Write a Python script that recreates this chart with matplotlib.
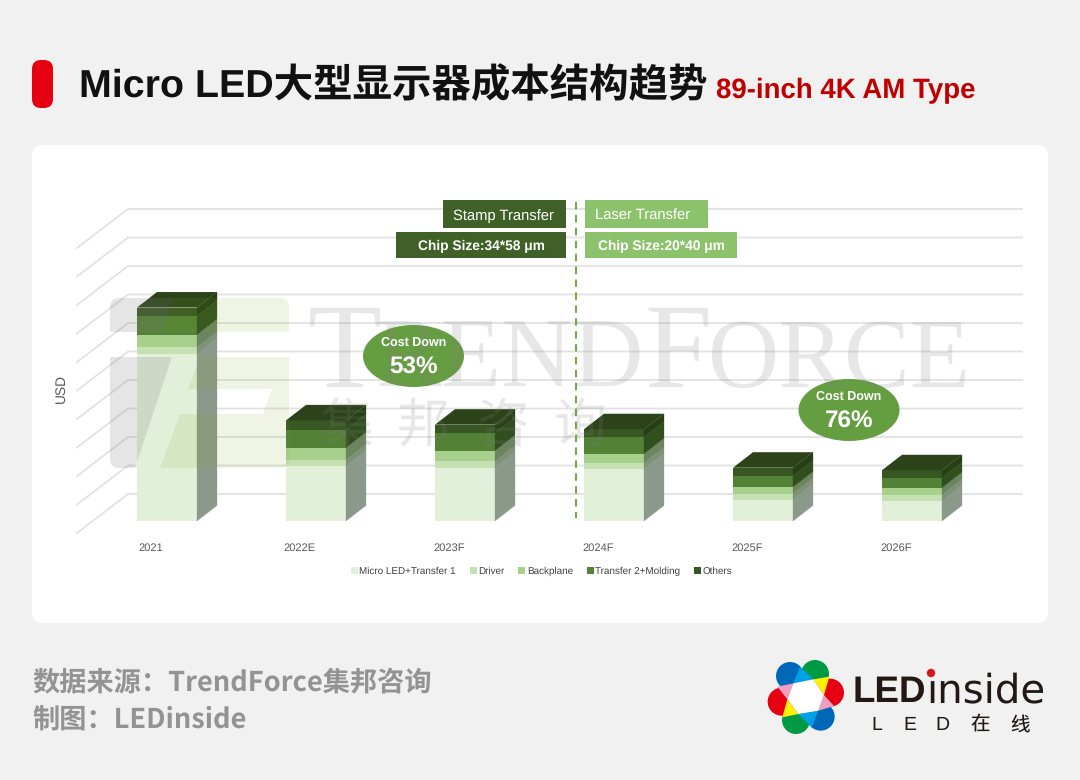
import matplotlib
matplotlib.use("Agg")
import matplotlib.pyplot as plt
from matplotlib.patches import FancyBboxPatch, Ellipse, Polygon, Circle, PathPatch, Rectangle
from matplotlib.path import Path
import numpy as np

plt.rcParams["text.hinting"] = "no_hinting"

# ---------- data (in gridline units) ----------
categories = ["2021", "2022E", "2023F", "2024F", "2025F", "2026F"]
series_names = ["Micro LED+Transfer 1", "Driver", "Backplane", "Transfer 2+Molding", "Others"]
micro_led = [5.87, 1.92, 1.87, 1.82, 0.75, 0.70]
driver = [0.23, 0.23, 0.23, 0.22, 0.21, 0.22]
backplane = [0.44, 0.42, 0.37, 0.32, 0.23, 0.25]
transfer2 = [0.65, 0.64, 0.63, 0.58, 0.39, 0.34]
others = [0.30, 0.32, 0.28, 0.28, 0.29, 0.27]
series = [micro_led, driver, backplane, transfer2, others]
grid_values = list(range(11))

front_colors = ["#E2EFD9", "#C5E0B3", "#A8D08D", "#538135", "#385723"]
side_colors = ["#8B998A", "#7F9277", "#6C8560", "#304F1D", "#263F15"]
top_color = "#2C4319"

W, H = 1080, 780
fig = plt.figure(figsize=(W / 100, H / 100), dpi=100, facecolor="#F1F1F1")


def px_axes(x0, y0, x1, y1, z):
    return fig.add_axes([x0 / W, 1 - y1 / H, (x1 - x0) / W, (y1 - y0) / H], zorder=z)


# background layer in pixel coordinates
bg = px_axes(0, 0, W, H, 0)
bg.set_xlim(0, W); bg.set_ylim(H, 0); bg.axis("off")
bg.add_patch(FancyBboxPatch((42, 155), 996, 458, boxstyle="round,pad=10,rounding_size=10",
                            fc="white", ec="none"))
bg.add_patch(FancyBboxPatch((38, 66), 9, 36, boxstyle="round,pad=6,rounding_size=9",
                            fc="#E60012", ec="none"))

# ---------- chart ----------
UX, UY = 149.0, 28.5          # pixels per category / per grid unit
X_AT = 151.0                  # pixel of category 0 label
AX_L, AX_R, AX_B, AX_T = 77, 1022, 533, 533 - 13 * 28.5
ax = px_axes(AX_L, AX_T, AX_R, AX_B, 1)
ax.set_xlim((AX_L - X_AT) / UX, (AX_R - X_AT) / UX)
ax.set_ylim(0, 13)
ax.patch.set_alpha(0)
for s in ax.spines.values():
    s.set_visible(False)

wall_dx, wall_dy = 51 / UX, 39 / UY
xl, xr = ax.get_xlim()
for v in grid_values:
    ax.plot([xl, xl + wall_dx, xr], [v, v + wall_dy, v + wall_dy], color="#E2E2E2", lw=1.3,
            zorder=1, solid_joinstyle="miter", clip_on=False)

bar_w = 60 / UX
bar_dx, base_y = 16 / UX, 12 / UY
dep_x, dep_y = 20 / UX, 15.5 / UY
xs = np.arange(len(categories)) + bar_dx
bottom = np.full(len(categories), base_y)
handles = []
for vals, fc, sc, name in zip(series, front_colors, side_colors, series_names):
    vals = np.array(vals)
    b = ax.bar(xs, vals, bar_w, bottom=bottom, color=fc, lw=0, zorder=3, label=name)
    handles.append(b)
    for x, b0, h in zip(xs, bottom, vals):
        xr0 = x + bar_w / 2
        ax.fill([xr0, xr0 + dep_x, xr0 + dep_x, xr0],
                [b0, b0 + dep_y, b0 + h + dep_y, b0 + h], facecolor=sc, edgecolor=sc, lw=0.2, zorder=3)
    bottom = bottom + vals
for x, t in zip(xs, bottom):
    xl0 = x - bar_w / 2
    ax.fill([xl0, xl0 + dep_x, xl0 + bar_w + dep_x, xl0 + bar_w],
            [t, t + dep_y, t + dep_y, t], color=top_color, lw=0, zorder=3)

ax.set_xticks(range(len(categories)), categories)
ax.set_yticks([])
ax.tick_params(axis="x", length=0, pad=7, labelsize=8, labelcolor="#595959")
for lab in ax.get_xticklabels():
    lab.set_family("Liberation Sans")

leg = ax.legend(handles=handles, loc="center", ncol=5, frameon=False,
                bbox_to_anchor=((541.5 - AX_L) / (AX_R - AX_L), (AX_B - 571.5) / (AX_B - AX_T)),
                prop={"family": "Liberation Sans", "size": 7.15}, handlelength=0.7, handleheight=0.7,
                handletextpad=0.15, columnspacing=1.4, labelcolor="#404040", borderpad=0)

# ---------- overlay ----------
ov = px_axes(0, 0, W, H, 2)
ov.set_xlim(0, W); ov.set_ylim(H, 0); ov.axis("off"); ov.patch.set_alpha(0)


def rpoly(pts, r_idx=None, r=9, **kw):
    verts, codes = [], []
    n = len(pts)
    for i, p in enumerate(pts):
        p = np.array(p, float)
        if i == r_idx:
            a = np.array(pts[(i - 1) % n], float); c = np.array(pts[(i + 1) % n], float)
            p1 = p + (a - p) / np.linalg.norm(a - p) * r
            p2 = p + (c - p) / np.linalg.norm(c - p) * r
            verts += [p1, p, p2]
            codes += [Path.MOVETO if i == 0 else Path.LINETO, Path.CURVE3, Path.CURVE3]
        else:
            verts.append(p); codes.append(Path.MOVETO if i == 0 else Path.LINETO)
    verts.append(verts[0]); codes.append(Path.CLOSEPOLY)
    ov.add_patch(PathPatch(Path(verts, codes), lw=0, **kw))


gray = dict(fc="#808080", alpha=0.2)
green = dict(fc="#7DA82A", alpha=0.12)
rpoly([(110, 298), (173, 298), (162, 332), (110, 332)], 0, **gray)
rpoly([(173, 298), (289, 298), (289, 332), (162, 332)], 1, **green)
rpoly([(110, 357), (172, 357), (135, 468), (110, 468)], 3, **gray)
rpoly([(200, 357), (289, 357), (289, 468), (160, 468), (180, 414), (263, 414), (272, 389), (188, 389)], 2, **green)

wm = dict(family="Liberation Serif", color="#808080", alpha=0.19, va="baseline", ha="left")
ov.text(308, 387, "T", fontsize=87, **wm)
ov.text(375, 387, "REND", fontsize=71, **wm)
ov.text(645, 387, "F", fontsize=87, **wm)
ov.text(708, 387, "ORCE", fontsize=71, **wm)
for cx, ch in zip([347, 423, 503, 580], "集邦咨询"):
    ov.text(cx, 427, ch, fontsize=38, family="Noto Sans CJK SC", weight="light", color="#808080",
            alpha=0.19, ha="center", va="center")

ov.text(61, 388, "USD", rotation=90, fontsize=9.9, family="Liberation Sans", color="#595959",
        ha="center", va="center")

# transfer tags
for (x0, x1, y0, y1, c) in [(443, 566, 200, 228, "#3F6127"), (396, 566, 232, 258, "#3F6127"),
                            (585, 708, 200, 228, "#8CC26C"), (585, 737, 232, 258, "#8CC26C")]:
    ov.add_patch(Rectangle((x0, y0), x1 - x0, y1 - y0, fc=c, ec="none"))
ff = dict(family="Liberation Sans", color="white", va="baseline", ha="center")
ov.text(503, 219.5, "Stamp Transfer", fontsize=10.6, **ff)
ov.text(643, 219.5, "Laser Transfer", fontsize=10.6, **ff)
ov.text(481, 250, "Chip Size:34*58 μm", fontsize=9.9, weight="bold", **ff)
ov.text(661, 250, "Chip Size:20*40 μm", fontsize=9.9, weight="bold", **ff)
ov.plot([575.7, 575.7], [202, 518], color="#70AD47", lw=1.5, dashes=(3.6, 2.6))

for cx, cy, pct in [(413.5, 356, "53%"), (849, 410, "76%")]:
    ov.add_patch(Ellipse((cx, cy), 101, 62, fc="#659D41", ec="none"))
    ov.text(cx, cy - 10, "Cost Down", fontsize=9, weight="bold", **ff)
    ov.text(cx, cy + 18, pct, fontsize=17.5, weight="bold", **ff)

# title
ov.text(79, 97, "Micro LED大型显示器成本结构趋势", fontsize=28.4, weight="bold",
        family=["Liberation Sans", "Noto Sans CJK SC"], color="#111111", ha="left", va="baseline")
ov.text(716, 98, "89-inch 4K AM Type", fontsize=19.9, weight="bold", family="Liberation Sans",
        color="#C00000", ha="left", va="baseline")

# footer
fc = dict(family=["Noto Sans CJK SC", "DejaVu Sans"], color="#939393", weight="bold", ha="left", va="baseline")
ov.text(32, 690.5, "数据来源：TrendForce集邦咨询", fontsize=19.6, **fc)
ov.text(32, 728.5, "制图：LEDinside", fontsize=19.6, **fc)

# logo
def zp(p):
    return (750 + p[0] / 3, 640 + p[1] / 3)

for c, col in [((120, 108), "#0068B7"), ((195, 102), "#009944"), ((240, 158), "#E60012"),
               ((212, 230), "#0068B7"), ((138, 240), "#009944"), ((95, 185), "#E60012")]:
    ov.add_patch(Circle(zp(c), 14, fc=col, ec="none"))
for pts, col in [([(130, 130), (190, 118), (150, 80)], "#00A0E9"),
                 ([(190, 118), (238, 110), (222, 165)], "#FFF100"),
                 ([(222, 165), (252, 198), (205, 212)], "#F19EC2"),
                 ([(205, 212), (145, 222), (185, 262)], "#00A0E9"),
                 ([(145, 222), (97, 232), (112, 178)], "#FFF100"),
                 ([(112, 178), (82, 140), (130, 130)], "#F19EC2"),
                 ([(130, 130), (190, 118), (222, 165), (205, 212), (145, 222), (112, 178)], "white")]:
    ov.add_patch(Polygon([zp(p) for p in pts], fc=col, ec="none"))
ov.text(853, 702, "LED", fontsize=26.5, weight="bold", family="Liberation Sans", color="#231815",
        ha="left", va="baseline")
ov.text(926, 702, "\u0131nside", fontsize=29, family="DejaVu Sans", color="#231815", ha="left", va="baseline")
ov.add_patch(Circle((931, 673), 4.2, fc="#D7171F", ec="none"))
for x, ch in zip([877, 910, 942, 980, 1020], "LED在线"):
    ov.text(x, 730, ch, fontsize=14, family=["Liberation Sans", "Noto Sans CJK SC"], color="#231815",
            ha="center", va="baseline")

fig.savefig("out.png", dpi=100, facecolor=fig.get_facecolor())
